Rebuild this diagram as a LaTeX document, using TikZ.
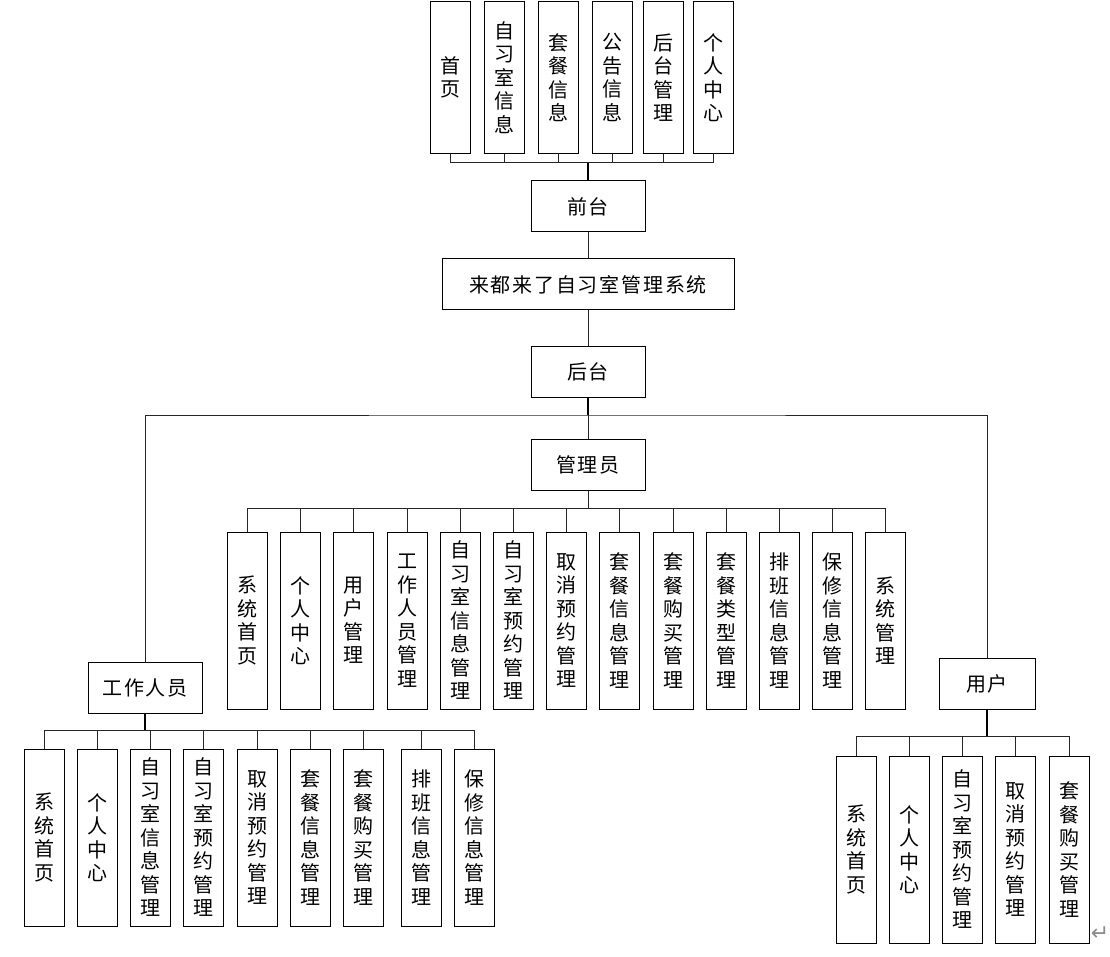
\documentclass[tikz,border=0pt]{standalone}
\usepackage{fontspec}
\newfontfamily\cjk[LetterSpace=9]{Noto Sans CJK SC}
\newfontfamily\sym{DejaVu Sans}

\begin{document}
\begin{tikzpicture}[x=1pt,y=-1pt,
	box/.style={draw=black,line width=1pt,inner sep=0pt,minimum height=51pt,
		font=\cjk\fontsize{20}{23.5}\selectfont},
	vbox/.style={draw=black,line width=1pt,inner sep=0pt,minimum width=40pt,
		align=center,font=\cjk\fontsize{20}{23.5}\selectfont},
	link/.style={draw=black!85,line width=1pt},
	trunk/.style={draw=black,line width=1.8pt}]
	\useasboundingbox (0,0) rectangle (1110,957);
	% front end
	\foreach \x/\t [count=\i] in {450/{首\\页},504/{自\\习\\室\\信\\息},558/{套\\餐\\信\\息},
		612/{公\\告\\信\\息},663/{后\\台\\管\\理},713/{个\\人\\中\\心}}
		\node [vbox,minimum height=152pt] (top\i) at (\x,77.5) {\t};
	\node [box,minimum width=114pt] (front) at (588,206.5) {前台};
	\node [box,minimum width=292pt] (sys) at (588,284.5) {来都来了自习室管理系统};
	\node [box,minimum width=114pt] (back) at (588,371.5) {后台};
	\coordinate (tbus) at (588,163);
	\foreach \i in {1,...,6}
		\draw [link] (top\i.south) -- (top\i.south |- tbus) -| (front.north);
	\draw [trunk] (tbus) -- (front.north);
	\draw [link] (front) -- (sys);
	\draw [link] (sys) -- (back);
	% back end roles
	\node [box,minimum width=114pt] (admin) at (588,464.5) {管理员};
	\node [box,minimum width=114pt] (staff) at (145,687.5) {工作人员};
	\node [box,minimum width=96pt] (user) at (987,683.5) {用户};
	\coordinate (bbus) at (588,415);
	\draw [trunk] (back.south) -- (bbus);
	\draw [link] (bbus) -- (admin.north);
	\draw [link] (staff.north) |- (bbus) -| (user.north);
	% admin
	\coordinate (abus) at (588,508);
	\foreach \t [count=\i] in {{系\\统\\首\\页},{个\\人\\中\\心},{用\\户\\管\\理},
		{工\\作\\人\\员\\管\\理},{自\\习\\室\\信\\息\\管\\理},{自\\习\\室\\预\\约\\管\\理},
		{取\\消\\预\\约\\管\\理},{套\\餐\\信\\息\\管\\理},{套\\餐\\购\\买\\管\\理},
		{套\\餐\\类\\型\\管\\理},{排\\班\\信\\息\\管\\理},{保\\修\\信\\息\\管\\理},
		{系\\统\\管\\理}}
	{
		\node [vbox,minimum height=177pt] (a\i) at ({247.5+53.2*(\i-1)},620.5) {\t};
		\draw [link] (a\i.north) -- (a\i.north |- abus) -| (admin.south);
	}
	% staff
	\coordinate (sbus) at (145,730);
	\foreach \x/\t [count=\i] in {44.5/{系\\统\\首\\页},97.5/{个\\人\\中\\心},
		150.5/{自\\习\\室\\信\\息\\管\\理},203.5/{自\\习\\室\\预\\约\\管\\理},
		257/{取\\消\\预\\约\\管\\理},310/{套\\餐\\信\\息\\管\\理},363.5/{套\\餐\\购\\买\\管\\理},
		421.5/{排\\班\\信\\息\\管\\理},474.5/{保\\修\\信\\息\\管\\理}}
	{
		\node [vbox,minimum height=177pt] (s\i) at (\x,837.5) {\t};
		\draw [link] (s\i.north) -- (s\i.north |- sbus) -| (staff.south);
	}
	\draw [trunk] (staff.south) -- (sbus);
	% user
	\coordinate (ubus) at (987,736);
	\foreach \x/\t [count=\i] in {856/{系\\统\\首\\页},909/{个\\人\\中\\心},
		962/{自\\习\\室\\预\\约\\管\\理},1015/{取\\消\\预\\约\\管\\理},1069/{套\\餐\\购\\买\\管\\理}}
	{
		\node [vbox,minimum height=187pt] (u\i) at (\x,849.5) {\t};
		\draw [link] (u\i.north) -- (u\i.north |- ubus) -| (user.south);
	}
	\draw [trunk] (user.south) -- (ubus);
	\node [text=black!45,font=\sym\fontsize{22}{22}\selectfont] (ret) at (1100,934) {↵};
\end{tikzpicture}
\end{document}
